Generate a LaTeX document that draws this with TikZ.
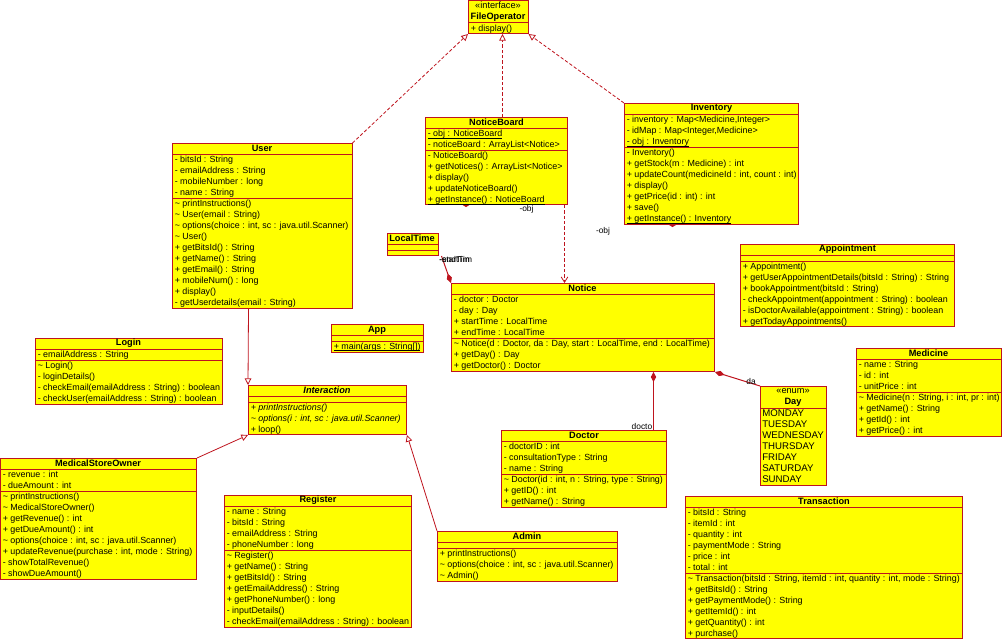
\documentclass[tikz,border=0pt]{standalone}
\usepackage{fontspec}
\usepackage{tikz}
\setmainfont{Liberation Sans}
\usetikzlibrary{arrows.meta}
\usetikzlibrary{fit}
\usetikzlibrary{shapes.geometric}
\definecolor{umlred}{RGB}{190,20,30}
\definecolor{umlyellow}{RGB}{255,255,0}
\newcommand{\pk}{\textasciitilde\ }
\newsavebox{\statbox}
\newcommand{\stat}[1]{\sbox{\statbox}{#1}\leavevmode\rlap{\rule[-1pt]{\wd\statbox}{0.4pt}}\usebox{\statbox}}
\tikzset{
  classbox/.style={draw=umlred, fill=umlyellow, line width=0.75pt, inner sep=0pt},
  divider/.style={draw=umlred, line width=0.75pt},
  classname/.style={font=\fontsize{6.9}{8.25}\selectfont\bfseries, inner sep=0pt, align=center},
  members/.style={font=\fontsize{6.68}{8.25}\selectfont, inner sep=0pt, anchor=north west, align=left},
  rolename/.style={font=\fontsize{6.3}{8.25}\selectfont, inner sep=0pt},
  selfmark/.style={diamond, fill=umlred, inner sep=0pt, minimum width=6.5pt, minimum height=4pt},
  realize/.style={draw=umlred, line width=0.6pt, dash pattern=on 2.5pt off 1.5pt, -{Triangle[open, fill=white, length=5pt, width=5pt]}},
  extend/.style={draw=umlred, line width=0.6pt, -{Triangle[open, fill=white, length=5pt, width=5pt]}},
  depend/.style={draw=umlred, line width=0.6pt, dash pattern=on 2.5pt off 1.5pt, -{Straight Barb[length=4pt, width=5pt]}},
  compose/.style={draw=umlred, line width=0.75pt, {Diamond[fill=umlred, length=7.5pt, width=4pt]}-},
}
\begin{document}
\begin{tikzpicture}[x=0.75pt, y=-0.75pt]
    \useasboundingbox (0, 0) rectangle (1002, 639);

    % diamonds that stick out below their boxes
    \node [selfmark] (boardSelf) at (466, 204.5) {};
    \node [selfmark] (inventorySelf) at (672.5, 224.5) {};

    % boxes
    \node [classbox, fit={(468.5, 0.5) (528, 33.5)}] (fileOperator) {};
    \node [classbox, fit={(425.5, 117.5) (567.5, 204.5)}] (noticeBoard) {};
    \node [classbox, fit={(624.5, 103.5) (798.5, 224.5)}] (inventory) {};
    \node [classbox, fit={(172.5, 143.5) (352, 308.5)}] (user) {};
    \node [classbox, fit={(387.5, 233.5) (438.5, 255.5)}] (localTime) {};
    \node [classbox, fit={(451.5, 283.5) (714.5, 371.5)}] (notice) {};
    \node [classbox, fit={(331.5, 324.5) (423.5, 352.5)}] (app) {};
    \node [classbox, fit={(35.5, 338.5) (222.5, 404.5)}] (login) {};
    \node [classbox, fit={(248.5, 385.5) (406.5, 434.5)}] (interaction) {};
    \node [classbox, fit={(0.5, 458.5) (196.5, 579.5)}] (storeOwner) {};
    \node [classbox, fit={(224.5, 495.5) (411.5, 627.5)}] (register) {};
    \node [classbox, fit={(437.5, 531.5) (617.5, 581.5)}] (admin) {};
    \node [classbox, fit={(501.5, 430.5) (666.5, 507.5)}] (doctor) {};
    \node [classbox, fit={(760.5, 386.5) (826.5, 485.5)}] (day) {};
    \node [classbox, fit={(685.5, 496.5) (962.5, 638.5)}] (transaction) {};
    \node [classbox, fit={(740.5, 244.5) (954.5, 326.5)}] (appointment) {};
    \node [classbox, fit={(856.5, 348.5) (1001.5, 436.5)}] (medicine) {};

    % dividers
    \draw [divider] (fileOperator.west |- 0, 22.5) -- (fileOperator.east |- 0, 22.5);
    \draw [divider] (noticeBoard.west |- 0, 128.5) -- (noticeBoard.east |- 0, 128.5);
    \draw [divider] (noticeBoard.west |- 0, 150.5) -- (noticeBoard.east |- 0, 150.5);
    \draw [divider] (inventory.west |- 0, 114.5) -- (inventory.east |- 0, 114.5);
    \draw [divider] (inventory.west |- 0, 147.5) -- (inventory.east |- 0, 147.5);
    \draw [divider] (user.west |- 0, 154.5) -- (user.east |- 0, 154.5);
    \draw [divider] (user.west |- 0, 198.5) -- (user.east |- 0, 198.5);
    \draw [divider] (localTime.west |- 0, 244.5) -- (localTime.east |- 0, 244.5);
    \draw [divider] (localTime.west |- 0, 250) -- (localTime.east |- 0, 250);
    \draw [divider] (notice.west |- 0, 294.5) -- (notice.east |- 0, 294.5);
    \draw [divider] (notice.west |- 0, 338.5) -- (notice.east |- 0, 338.5);
    \draw [divider] (app.west |- 0, 335.5) -- (app.east |- 0, 335.5);
    \draw [divider] (app.west |- 0, 341) -- (app.east |- 0, 341);
    \draw [divider] (login.west |- 0, 349.5) -- (login.east |- 0, 349.5);
    \draw [divider] (login.west |- 0, 360.5) -- (login.east |- 0, 360.5);
    \draw [divider] (interaction.west |- 0, 396.5) -- (interaction.east |- 0, 396.5);
    \draw [divider] (interaction.west |- 0, 402) -- (interaction.east |- 0, 402);
    \draw [divider] (storeOwner.west |- 0, 469.5) -- (storeOwner.east |- 0, 469.5);
    \draw [divider] (storeOwner.west |- 0, 491.5) -- (storeOwner.east |- 0, 491.5);
    \draw [divider] (register.west |- 0, 506.5) -- (register.east |- 0, 506.5);
    \draw [divider] (register.west |- 0, 550.5) -- (register.east |- 0, 550.5);
    \draw [divider] (admin.west |- 0, 542.5) -- (admin.east |- 0, 542.5);
    \draw [divider] (admin.west |- 0, 548.5) -- (admin.east |- 0, 548.5);
    \draw [divider] (doctor.west |- 0, 441.5) -- (doctor.east |- 0, 441.5);
    \draw [divider] (doctor.west |- 0, 474.5) -- (doctor.east |- 0, 474.5);
    \draw [divider] (day.west |- 0, 408.5) -- (day.east |- 0, 408.5);
    \draw [divider] (transaction.west |- 0, 507.5) -- (transaction.east |- 0, 507.5);
    \draw [divider] (transaction.west |- 0, 573.5) -- (transaction.east |- 0, 573.5);
    \draw [divider] (appointment.west |- 0, 255.5) -- (appointment.east |- 0, 255.5);
    \draw [divider] (appointment.west |- 0, 261) -- (appointment.east |- 0, 261);
    \draw [divider] (medicine.west |- 0, 359.5) -- (medicine.east |- 0, 359.5);
    \draw [divider] (medicine.west |- 0, 392.5) -- (medicine.east |- 0, 392.5);

    % class names
    \node [classname] (fileOperatorName) at (498, 12) {\mdseries«interface»\\FileOperator};
    \node [classname] (noticeBoardName) at (496.5, 122.5) {NoticeBoard};
    \node [classname] (inventoryName) at (711.5, 108) {Inventory};
    \node [classname] (userName) at (262, 148.5) {User};
    \node [classname] (localTimeName) at (412, 238.5) {LocalTime};
    \node [classname] (noticeName) at (582.5, 288.5) {Notice};
    \node [classname] (appName) at (377, 330) {App};
    \node [classname] (loginName) at (128.5, 343.5) {Login};
    \node [classname] (interactionName) at (327, 390.5) {\itshape Interaction};
    \node [classname] (storeOwnerName) at (98, 463) {MedicalStoreOwner};
    \node [classname] (registerName) at (318, 500.5) {Register};
    \node [classname] (adminName) at (527, 536.5) {Admin};
    \node [classname] (doctorName) at (584, 435) {Doctor};
    \node [classname] (dayName) at (793, 397) {\mdseries«enum»\\Day};
    \node [classname] (transactionName) at (824, 501) {Transaction};
    \node [classname] (appointmentName) at (847.5, 249) {Appointment};
    \node [classname] (medicineName) at (928.5, 353.5) {Medicine};

    % attributes and operations
    \node [members] (fileOperatorOps) at (470.5, 23.5) {\strut + display()};
    \node [members] (noticeBoardAttrs) at (427.5, 129) {\strut\stat{- obj : NoticeBoard}\\- noticeBoard : ArrayList<Notice>};
    \node [members] (noticeBoardOps) at (427.5, 151) {\strut - NoticeBoard()\\+ getNotices() : ArrayList<Notice>\\+ display()\\+ updateNoticeBoard()\\\stat{+ getInstance() : NoticeBoard}};
    \node [members] (inventoryAttrs) at (626.5, 115) {\strut - inventory : Map<Medicine,Integer>\\- idMap : Map<Integer,Medicine>\\\stat{- obj : Inventory}};
    \node [members] (inventoryOps) at (626.5, 148) {\strut - Inventory()\\+ getStock(m : Medicine) : int\\+ updateCount(medicineId : int, count : int)\\+ display()\\+ getPrice(id : int) : int\\+ save()\\\stat{+ getInstance() : Inventory}};
    \node [members] (userAttrs) at (174.5, 155) {\strut - bitsId : String\\- emailAddress : String\\- mobileNumber : long\\- name : String};
    \node [members] (userOps) at (174.5, 199) {\strut \pk printInstructions()\\\pk User(email : String)\\\pk options(choice : int, sc : java.util.Scanner)\\\pk User()\\+ getBitsId() : String\\+ getName() : String\\+ getEmail() : String\\+ mobileNum() : long\\+ display()\\- getUserdetails(email : String)};
    \node [members] (noticeAttrs) at (453.5, 295) {\strut - doctor : Doctor\\- day : Day\\+ startTime : LocalTime\\+ endTime : LocalTime};
    \node [members] (noticeOps) at (453.5, 339) {\strut \pk Notice(d : Doctor, da : Day, start : LocalTime, end : LocalTime)\\+ getDay() : Day\\+ getDoctor() : Doctor};
    \node [members] (appOps) at (333.5, 341.5) {\strut\stat{+ main(args : String[])}};
    \node [members] (loginAttrs) at (37.5, 350) {\strut - emailAddress : String};
    \node [members] (loginOps) at (37.5, 361) {\strut \pk Login()\\- loginDetails()\\- checkEmail(emailAddress : String) : boolean\\- checkUser(emailAddress : String) : boolean};
    \node [members] (interactionOps) at (250.5, 402.5) {\strut\textit{+ printInstructions()}\\\textit{\pk options(i : int, sc : java.util.Scanner)}\\+ loop()};
    \node [members] (storeOwnerAttrs) at (2.5, 470) {\strut - revenue : int\\- dueAmount : int};
    \node [members] (storeOwnerOps) at (2.5, 492) {\strut \pk printInstructions()\\\pk MedicalStoreOwner()\\+ getRevenue() : int\\+ getDueAmount() : int\\\pk options(choice : int, sc : java.util.Scanner)\\+ updateRevenue(purchase : int, mode : String)\\- showTotalRevenue()\\- showDueAmount()};
    \node [members] (registerAttrs) at (226.5, 507) {\strut - name : String\\- bitsId : String\\- emailAddress : String\\- phoneNumber : long};
    \node [members] (registerOps) at (226.5, 551) {\strut \pk Register()\\+ getName() : String\\+ getBitsId() : String\\+ getEmailAddress() : String\\+ getPhoneNumber() : long\\- inputDetails()\\- checkEmail(emailAddress : String) : boolean};
    \node [members] (adminOps) at (439.5, 549) {\strut + printInstructions()\\\pk options(choice : int, sc : java.util.Scanner)\\\pk Admin()};
    \node [members] (doctorAttrs) at (503.5, 442) {\strut - doctorID : int\\- consultationType : String\\- name : String};
    \node [members] (doctorOps) at (503.5, 475) {\strut \pk Doctor(id : int, n : String, type : String)\\+ getID() : int\\+ getName() : String};
    \node [members, font=\fontsize{7.25}{8.25}\selectfont] (dayValues) at (762, 409) {\strut MONDAY\\TUESDAY\\WEDNESDAY\\THURSDAY\\FRIDAY\\SATURDAY\\SUNDAY};
    \node [members] (transactionAttrs) at (687.5, 508) {\strut - bitsId : String\\- itemId : int\\- quantity : int\\- paymentMode : String\\- price : int\\- total : int};
    \node [members] (transactionOps) at (687.5, 574) {\strut \pk Transaction(bitsId : String, itemId : int, quantity : int, mode : String)\\+ getBitsId() : String\\+ getPaymentMode() : String\\+ getItemId() : int\\+ getQuantity() : int\\+ purchase()};
    \node [members] (appointmentOps) at (742.5, 261.5) {\strut + Appointment()\\+ getUserAppointmentDetails(bitsId : String) : String\\+ bookAppointment(bitsId : String)\\- checkAppointment(appointment : String) : boolean\\- isDoctorAvailable(appointment : String) : boolean\\+ getTodayAppointments()};
    \node [members] (medicineAttrs) at (858.5, 360) {\strut - name : String\\- id : int\\- unitPrice : int};
    \node [members] (medicineOps) at (858.5, 393) {\strut \pk Medicine(n : String, i : int, pr : int)\\+ getName() : String\\+ getId() : int\\+ getPrice() : int};

    % connectors
    \draw [realize] (user.north east) -- (fileOperator.south west);
    \draw [realize] (noticeBoard.north -| 502.5, 0) -- (fileOperator.south -| 502.5, 0);
    \draw [realize] (inventory.north west) -- (fileOperator.south east);
    \draw [depend] (noticeBoard.south -| 564.5, 0) -- (notice.north -| 564.5, 0);
    \draw [extend] (user.south -| 248.5, 0) -- (interaction.north west);
    \draw [extend] (storeOwner.north east) -- (interaction.south west);
    \draw [extend] (admin.north west) -- (interaction.south east);
    \draw [compose] (notice.north west) -- (localTime.south -| 441.5, 0);
    \draw [compose] (notice.south -| 653.5, 0) -- (doctor.north -| 653.5, 0);
    \draw [compose] (notice.south east) -- (day.north west);

    % role names
    \node [rolename, anchor=west] (endTimeRole) at (439, 259) {-endTim};
    \node [rolename, anchor=west] (startTimeRole) at (439, 259) {-startTim};
    \node [rolename] (boardObjRole) at (526.5, 209.5) {-obj};
    \node [rolename] (inventoryObjRole) at (603, 231) {-obj};
    \node [rolename, anchor=east] (doctorRole) at (652.5, 426) {docto};
    \node [rolename] (dayRole) at (751, 381.5) {da};
  \end{tikzpicture}
\end{document}
